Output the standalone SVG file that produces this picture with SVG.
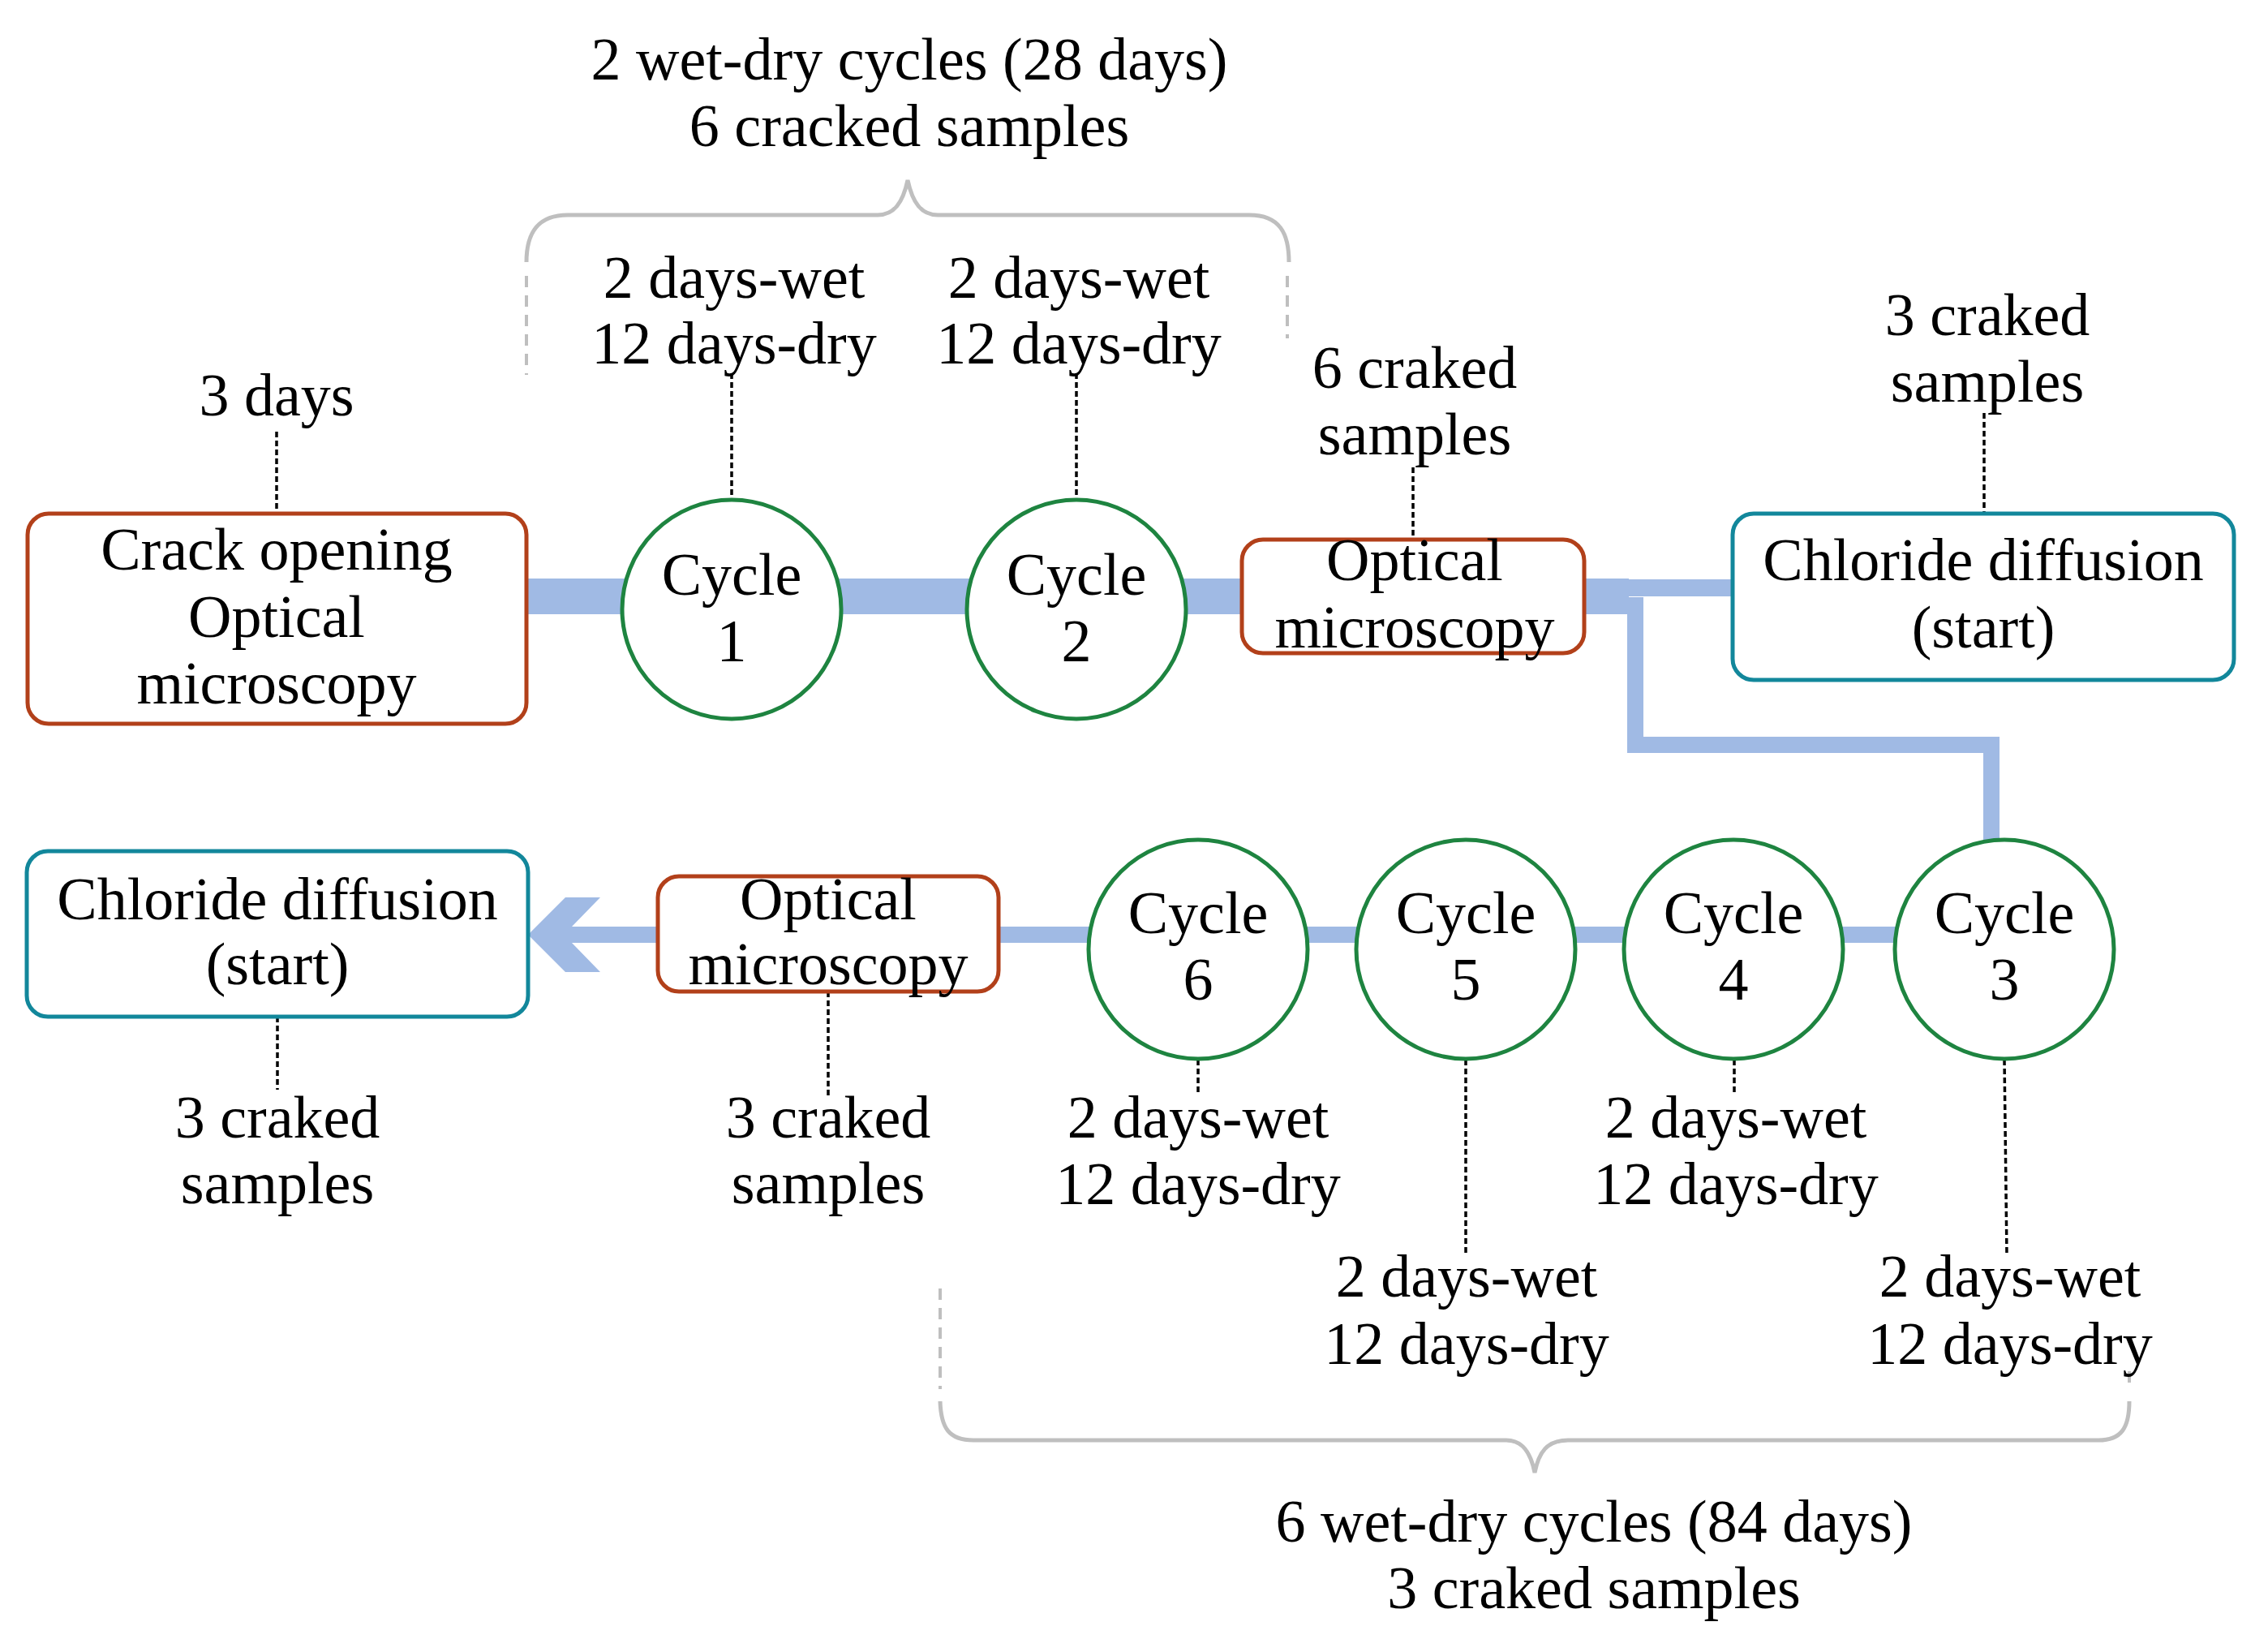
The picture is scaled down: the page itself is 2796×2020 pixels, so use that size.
<svg xmlns="http://www.w3.org/2000/svg" width="2796" height="2020" viewBox="0 0 2796 2020">
<style>
text{font-family:"Liberation Serif","Times New Roman",serif;font-size:74px;fill:#000;text-anchor:middle}
.box{fill:#fff;stroke-width:5}
.opt{stroke:#B2401A}
.chl{stroke:#12879B}
.cyc{fill:#fff;stroke:#1E8440;stroke-width:5}
.band{fill:none;stroke:#A0BAE4;stroke-linejoin:miter;stroke-linecap:butt}
.lead{fill:none;stroke:#000;stroke-width:3.5;stroke-dasharray:7 4}
.brace{fill:none;stroke:#BFBFBF;stroke-width:5}
.bdash{fill:none;stroke:#BFBFBF;stroke-width:4;stroke-dasharray:14 10}
</style>
<defs>
<marker id="chev" markerUnits="userSpaceOnUse" viewBox="-40 -50 100 100" refX="0" refY="0" markerWidth="100" markerHeight="100" orient="auto">
<path d="M54,0 L8,-46 L-35,-46 L0,-10 L0,10 L-35,46 L8,46 Z" fill="#A0BAE4"/>
</marker>
</defs>
<rect width="2796" height="2020" fill="#fff"/>
<g id="connectors">
<path class="band" stroke-width="44" d="M649,735 L1531,735"/>
<path class="band" stroke-width="44" d="M1950,735 L2008,735"/>
<path class="band" stroke-width="21" d="M1950,724.5 L2138,724.5"/>
<path class="band" stroke-width="20" d="M1950,746 L2016,746 L2016,918 L2455,918 L2455,1040"/>
<path class="band" stroke-width="20" d="M2400,1152 L705,1152" marker-end="url(#chev)"/>
<path class="lead" d="M341,532 V633"/>
<path class="lead" d="M902,460 V616"/>
<path class="lead" d="M1327,460 V616"/>
<path class="lead" d="M1742,576 V665"/>
<path class="lead" d="M2446,509 V633"/>
<path class="lead" d="M342,1253 V1343"/>
<path class="lead" d="M1021,1222 V1350"/>
<path class="lead" d="M1477,1306 V1350"/>
<path class="lead" d="M1807,1306 V1547"/>
<path class="lead" d="M2138,1306 V1350"/>
<path class="lead" d="M2471,1306 L2474,1547"/>
</g>
<g id="brace-top">
<path class="brace" d="M649,323 C649,288 662,265 700,265 L1082,265 C1102,265 1113,250 1119,222 C1125,250 1136,265 1156,265 L1540,265 C1578,265 1589,288 1589,323"/>
<path class="bdash" d="M649,340 V462"/>
<path class="bdash" d="M1587,340 V417"/>
<text x="1121" y="98">2 wet-dry cycles (28 days)</text>
<text x="1121" y="180">6 cracked samples</text>
</g>
<g id="brace-bottom">
<path class="brace" d="M1159,1727 C1160,1760 1170,1775 1200,1775 L1857,1775 C1877,1775 1887,1790 1892,1815 C1897,1790 1907,1775 1933,1775 L2587,1775 C2615,1775 2625,1760 2625,1727"/>
<path class="bdash" d="M1159,1588 V1712"/>
<path class="bdash" d="M2625,1690 V1712"/>
<text x="1965" y="1900">6 wet-dry cycles (84 days)</text>
<text x="1965" y="1982">3 craked samples</text>
</g>
<g id="crack-opening">
<rect class="box opt" x="34" y="633" width="615" height="259" rx="26"/>
<text x="341" y="702">Crack opening</text>
<text x="341" y="785">Optical</text>
<text x="341" y="867">microscopy</text>
</g>
<g id="label-3days"><text x="341" y="512">3 days</text></g>
<g id="cycle1">
<circle class="cyc" cx="902" cy="751" r="135"/>
<text x="902" y="733">Cycle</text>
<text x="902" y="815">1</text>
</g>
<g id="label-cycle1"><text x="905" y="367">2 days-wet</text><text x="905" y="448">12 days-dry</text></g>
<g id="cycle2">
<circle class="cyc" cx="1327" cy="751" r="135"/>
<text x="1327" y="733">Cycle</text>
<text x="1327" y="815">2</text>
</g>
<g id="label-cycle2"><text x="1330" y="367">2 days-wet</text><text x="1330" y="448">12 days-dry</text></g>
<g id="optical-top">
<rect class="box opt" x="1531" y="665" width="422" height="140" rx="26"/>
<text x="1744" y="715">Optical</text>
<text x="1744" y="798">microscopy</text>
</g>
<g id="label-optical-top"><text x="1744" y="478">6 craked</text><text x="1744" y="560">samples</text></g>
<g id="chloride-top">
<rect class="box chl" x="2136" y="633" width="618" height="205" rx="26"/>
<text x="2445" y="715">Chloride diffusion</text>
<text x="2445" y="798">(start)</text>
</g>
<g id="label-chloride-top"><text x="2450" y="413">3 craked</text><text x="2450" y="495">samples</text></g>
<g id="cycle3">
<circle class="cyc" cx="2471" cy="1170" r="135"/>
<text x="2471" y="1150">Cycle</text>
<text x="2471" y="1232">3</text>
</g>
<g id="label-cycle3"><text x="2478" y="1598">2 days-wet</text><text x="2478" y="1681">12 days-dry</text></g>
<g id="cycle4">
<circle class="cyc" cx="2137" cy="1170" r="135"/>
<text x="2137" y="1150">Cycle</text>
<text x="2137" y="1232">4</text>
</g>
<g id="label-cycle4"><text x="2140" y="1402">2 days-wet</text><text x="2140" y="1484">12 days-dry</text></g>
<g id="cycle5">
<circle class="cyc" cx="1807" cy="1170" r="135"/>
<text x="1807" y="1150">Cycle</text>
<text x="1807" y="1232">5</text>
</g>
<g id="label-cycle5"><text x="1808" y="1598">2 days-wet</text><text x="1808" y="1681">12 days-dry</text></g>
<g id="cycle6">
<circle class="cyc" cx="1477" cy="1170" r="135"/>
<text x="1477" y="1150">Cycle</text>
<text x="1477" y="1232">6</text>
</g>
<g id="label-cycle6"><text x="1477" y="1402">2 days-wet</text><text x="1477" y="1484">12 days-dry</text></g>
<g id="optical-bottom">
<rect class="box opt" x="811" y="1080" width="420" height="142" rx="26"/>
<text x="1021" y="1133">Optical</text>
<text x="1021" y="1213">microscopy</text>
</g>
<g id="label-optical-bottom"><text x="1021" y="1402">3 craked</text><text x="1021" y="1483">samples</text></g>
<g id="chloride-bottom">
<rect class="box chl" x="33" y="1049" width="618" height="204" rx="26"/>
<text x="342" y="1133">Chloride diffusion</text>
<text x="342" y="1213">(start)</text>
</g>
<g id="label-chloride-bottom"><text x="342" y="1402">3 craked</text><text x="342" y="1483">samples</text></g>
</svg>
